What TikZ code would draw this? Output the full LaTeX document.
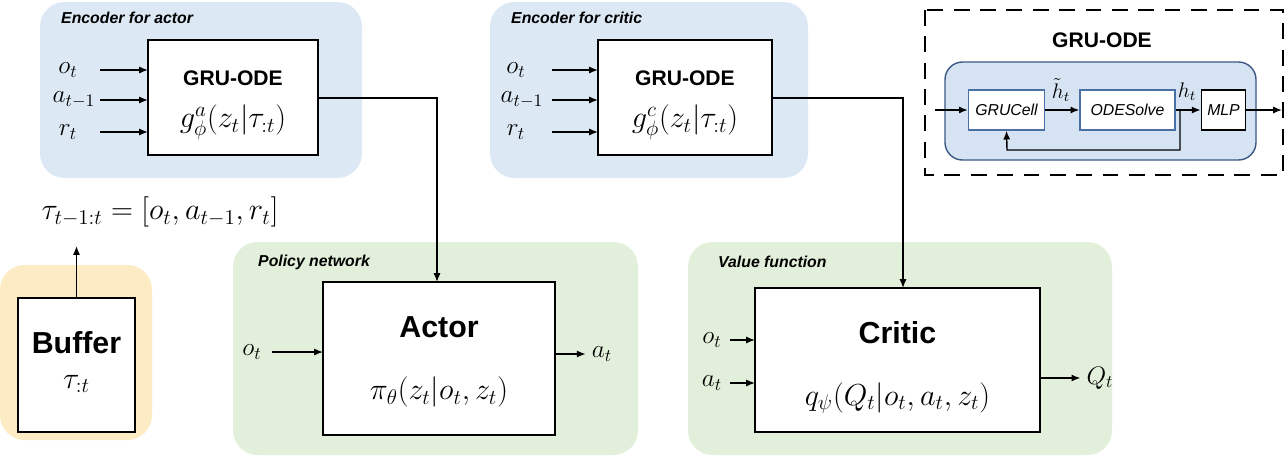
\documentclass[tikz,border=0pt]{standalone}
\usepackage{fontspec}
\setmainfont{Liberation Sans}
\usetikzlibrary{arrows.meta}
\definecolor{encblue}{HTML}{DCE8F4}
\definecolor{polgreen}{HTML}{E2EFDA}
\definecolor{bufor}{HTML}{FDEBC4}
\definecolor{innerblue}{HTML}{D6E3F2}
\definecolor{boxblue}{HTML}{4A6FA5}
\begin{document}
\begin{tikzpicture}[x=0.02cm,y=-0.02cm,
  bg/.style={fill=#1,draw=none,rounded corners=14pt},
  blk/.style={draw=black,line width=1.6pt,fill=white},
  arr/.style={-{Latex[length=5pt,width=4pt]},line width=0.8pt},
  ttl/.style={font=\bfseries\itshape\small,anchor=west},
  lab/.style={font=\Large},
  fml/.style={font=\LARGE}]
\useasboundingbox (0,0) rectangle (1288,461);
% backgrounds
\path[bg=encblue] (40,2) rectangle (362,178);
\path[bg=encblue] (490,2) rectangle (808,178);
\path[bg=bufor] (0,265) rectangle (152,440);
\path[bg=polgreen] (233,242) rectangle (638,455);
\path[bg=polgreen] (688,242) rectangle (1112,455);
\node[ttl] (t1) at (55,18) {Encoder for actor};
\node[ttl] (t2) at (505,18) {Encoder for critic};
\node[ttl] (t3) at (252,262) {Policy network};
\node[ttl] (t4) at (712,262) {Value function};
% encoder actor
\node[blk,minimum width=170*0.02cm,minimum height=115*0.02cm] (ea) at (233,97.5) {};
\node[font=\bfseries\large] (eat) at (233,78) {GRU-ODE};
\node[fml] (eaf) at (233,122) {$g^{a}_{\phi}(z_t|\tau_{:t})$};
\node[lab] (ea1) at (68,70) {$o_t$};
\node[lab] (ea2) at (74,100) {$a_{t-1}$};
\node[lab] (ea3) at (68,132) {$r_t$};
\draw[arr] (100,70) -- (148,70); \draw[arr] (100,100) -- (148,100); \draw[arr] (100,132) -- (148,132);
% encoder critic
\node[blk,minimum width=174*0.02cm,minimum height=115*0.02cm] (ec) at (685,97.5) {};
\node[font=\bfseries\large] (ect) at (685,78) {GRU-ODE};
\node[fml] (ecf) at (685,122) {$g^{c}_{\phi}(z_t|\tau_{:t})$};
\node[lab] (ec1) at (516,70) {$o_t$};
\node[lab] (ec2) at (522,100) {$a_{t-1}$};
\node[lab] (ec3) at (516,132) {$r_t$};
\draw[arr] (552,70) -- (598,70); \draw[arr] (552,100) -- (598,100); \draw[arr] (552,132) -- (598,132);
% actor
\node[blk,minimum width=232*0.02cm,minimum height=153*0.02cm] (actor) at (439,358.5) {};
\node[font=\bfseries\LARGE] (actt) at (439,327) {Actor};
\node[fml] (actf) at (439,392) {$\pi_{\theta}(z_t|o_t,z_t)$};
\node[lab] (ao) at (252,352) {$o_t$};
\node[lab] (aa) at (602,354) {$a_t$};
\draw[arr] (272,352) -- (323,352);
\draw[arr] (555,354) -- (aa.west);
\draw[arr] (318,98) -- (437,98) -- (437,282);
% critic
\node[blk,minimum width=285*0.02cm,minimum height=144*0.02cm] (critic) at (897.5,360) {};
\node[font=\bfseries\LARGE] (crit) at (897.5,333) {Critic};
\node[fml] (crf) at (897.5,398) {$q_{\psi}(Q_t|o_t,a_t,z_t)$};
\node[lab] (co) at (712,340) {$o_t$};
\node[lab] (ca) at (712,383) {$a_t$};
\node[lab] (cq) at (1100,378) {$Q_t$};
\draw[arr] (730,340) -- (755,340);
\draw[arr] (730,383) -- (755,383);
\draw[arr] (1040,378) -- (cq.west);
\draw[arr] (772,98) -- (903,98) -- (903,288);
% buffer
\node[blk,minimum width=117*0.02cm,minimum height=134*0.02cm] (buf) at (76.5,365) {};
\node[font=\bfseries\LARGE] (buft) at (76.5,343) {Buffer};
\node[fml] (bufl) at (76.5,384) {$\tau_{:t}$};
\node[fml] (tau) at (160,212) {$\tau_{t-1:t}=[o_t,a_{t-1},r_t]$};
\draw[arr] (76.5,298) -- (76.5,246);
% GRU-ODE detail
\draw[line width=1.6pt,dash pattern=on 9pt off 6pt] (925,10) rectangle (1283,175);
\node[font=\bfseries\large] (gt) at (1102,40) {GRU-ODE};
\draw[fill=innerblue,draw=boxblue!80!black,rounded corners=10pt,line width=0.8pt] (945,62) rectangle (1256,160);
\node[draw=boxblue,fill=white,line width=0.8pt,minimum width=76*0.02cm,minimum height=40*0.02cm,font=\small\itshape] (gru) at (1006.5,110) {GRUCell};
\node[draw=boxblue,fill=white,line width=0.8pt,minimum width=95*0.02cm,minimum height=40*0.02cm,font=\small\itshape] (ode) at (1127.5,110) {ODESolve};
\node[draw=black,fill=white,line width=0.8pt,minimum width=43*0.02cm,minimum height=40*0.02cm,font=\small\itshape] (mlp) at (1223.5,110) {MLP};
\coordinate (gin) at (935,110); \coordinate (gout) at (1282,110);
\draw[arr] (gin) -- (gru);
\draw[arr] (gru) -- (ode);
\draw[arr] (ode) -- (mlp);
\node[font=\large,inner sep=0pt] (ht) at (1061,90) {$\tilde h_t$};
\node[font=\large,inner sep=0pt] (h2) at (1187,92) {$h_t$};
\draw[arr] (mlp) -- (gout);
\draw[arr] (1180,110) -- (1180,150) -- (1007,150) -- (gru.south);
\end{tikzpicture}
\end{document}
